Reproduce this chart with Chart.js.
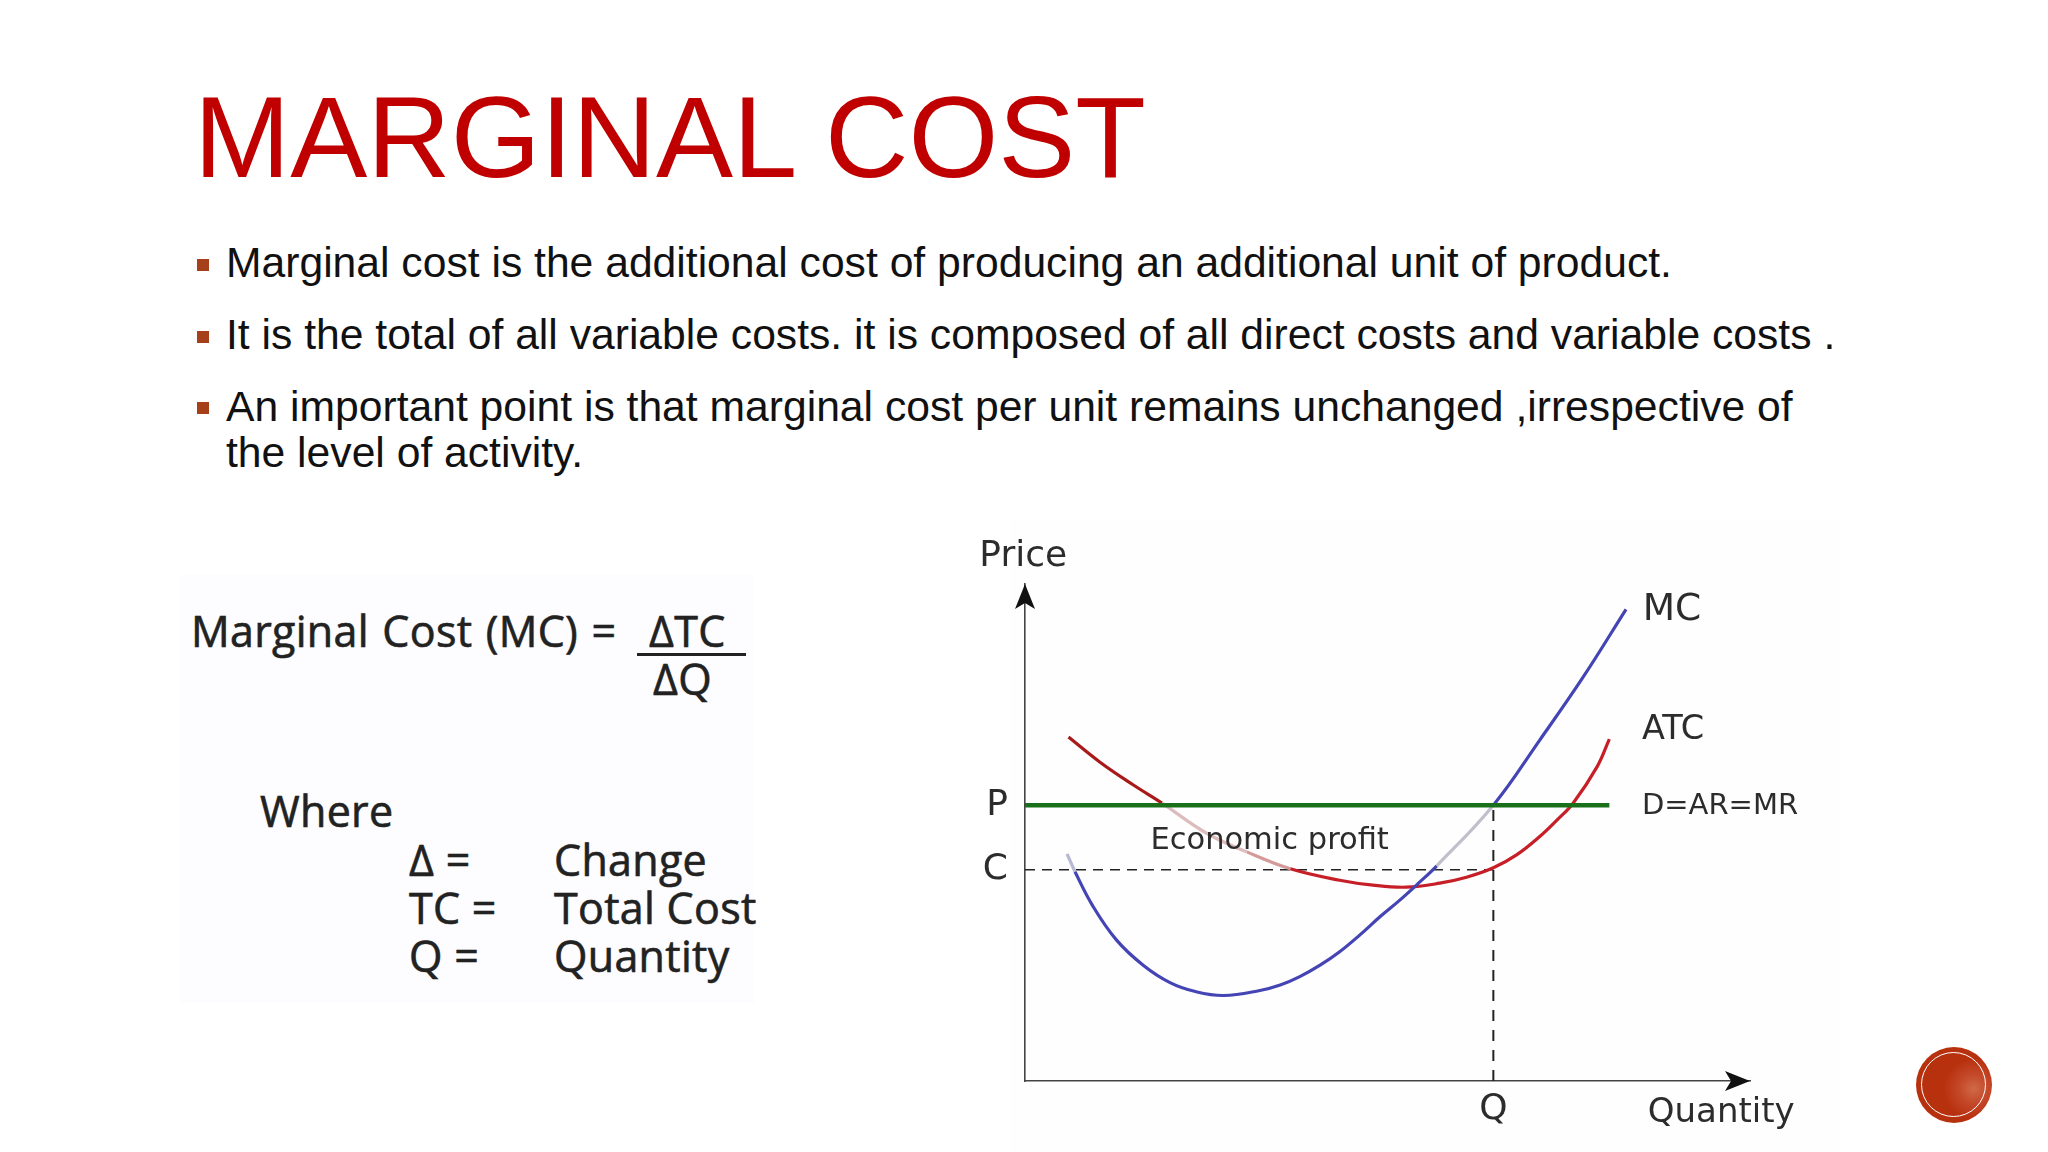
<!DOCTYPE html>
<html>
<head>
<meta charset="utf-8">
<script src="https://cdn.jsdelivr.net/npm/chart.js@4"></script>
<style>
  html, body { margin: 0; padding: 0; background: #fff; }
  #slide { position: relative; width: 2048px; height: 1152px; overflow: hidden; background: #fff; }
  #slide div { position: absolute; white-space: nowrap; }
  #title { left: 194px; top: 72px; font: 115.5px/130px "Liberation Sans"; color: #c00000; }
  .bullet { left: 226px; font: 42.65px/50px "Liberation Sans"; color: #111; }
  .sq { left: 197px; width: 12px; height: 12px; background: #a5401a; }
  #box { left: 179px; top: 575px; width: 575px; height: 428px; background: #fdfcfe; }
  #plotbg { left: 1010px; top: 520px; width: 830px; height: 632px; background: #fefefe; }
  .f { font: 500 43px/48px "Open Sans"; letter-spacing: .3px; color: #222; transform: translateY(-50%);
       -webkit-text-stroke: .5px #222; text-shadow: 0 0 1px rgba(0,0,0,.35); }
  #bar { left: 637px; top: 653px; width: 109px; height: 3px; background: #222; }
  #logo { left: 1916px; top: 1047px; width: 76px; height: 76px; border-radius: 50%;
          background: radial-gradient(circle at 76% 55%, #cf6a48 0, #c4492a 20%, #b8310f 42%); }
  #ring { left: 1921px; top: 1052px; width: 63px; height: 63px; border-radius: 50%; border: 1.5px solid #fff; }
  #wrap { left: 960px; top: 530px; width: 860px; height: 607px; }
</style>
</head>
<body>
<div id="slide">
  <div id="plotbg"></div>
  <div id="title">MARGINAL COST</div>
  <div class="sq" style="top:259px"></div>
  <div class="bullet" style="top:237px">Marginal cost is the additional cost of producing an additional unit of product.</div>
  <div class="sq" style="top:331px"></div>
  <div class="bullet" style="top:309px">It is the total of all variable costs. it is composed of all direct costs and variable costs .</div>
  <div class="sq" style="top:402px"></div>
  <div class="bullet" style="top:381px">An important point is that marginal cost per unit remains unchanged ,irrespective of</div>
  <div class="bullet" style="top:427px">the level of activity.</div>

  <div id="box"></div>
  <div class="f" style="left:191px;top:631px;word-spacing:2px">Marginal Cost (MC) =</div>
  <div class="f" style="left:649px;top:631px">ΔTC</div>
  <div id="bar"></div>
  <div class="f" style="left:653px;top:679px">ΔQ</div>
  <div class="f" style="left:260px;top:811px">Where</div>
  <div class="f" style="left:409px;top:860px">Δ =</div>
  <div class="f" style="left:554px;top:860px">Change</div>
  <div class="f" style="left:409px;top:908px">TC =</div>
  <div class="f" style="left:554px;top:908px">Total Cost</div>
  <div class="f" style="left:409px;top:956px">Q =</div>
  <div class="f" style="left:554px;top:956px">Quantity</div>

  <div id="wrap"><canvas id="costChart" width="860" height="607"></canvas></div>
  <div id="logo"></div>
  <div id="ring"></div>
</div>

<script>
var mcX = [5.8, 6.9, 9.4, 12.6, 16.3, 20, 23.5, 27.4, 32.4, 35.2, 37.9, 40.7, 43.4, 46.2, 49, 51.7, 54.2, 56.8, 64.6, 71, 77, 82.9]
var mcY = [45.7, 42.1, 35.1, 28.4, 23.3, 19.8, 18, 17.2, 18.2, 19.3, 21, 23.3, 26, 29.4, 33.1, 36.4, 39.7, 43.3, 55.5, 68.6, 81.3, 94.9]
var atcX = [6, 10.3, 14.9, 18.9, 25.1, 30.6, 36.6, 43.4, 48, 52.6, 57.2, 60.9, 64.6, 67.8, 71, 73.3, 75.6, 78.9, 80.6]
var atcY = [69.2, 64.2, 59.6, 55.9, 49.8, 46.1, 42.7, 40.4, 39.4, 39, 39.8, 41, 42.9, 45.5, 49.2, 52.4, 55.9, 63.2, 68.8]

var priceP = 55.5
var costC = 42.5
var quantityQ = 64.6
var demandEnd = 80.6

var annoText = ["Price", "MC", "ATC", "D=AR=MR", "Economic profit", "Quantity"]
var annoX = [-6.3, 85.2, 85.1, 85.1, 17.3, 85.9]
var annoY = [105.6, 94.8, 70.6, 55.3, 48.2, -6.4]
var annoSize = [36, 37.5, 33.5, 29, 30.5, 34]

var FONT = '"DejaVu Sans"'

// barbed arrow, tip sits on the middle of the image so it lands on the axis end
function arrowHead() {
    var c = document.createElement("canvas")
    c.width = 56; c.height = 56
    var g = c.getContext("2d")
    g.fillStyle = "#111"
    g.beginPath()
    g.moveTo(28, 28)
    g.lineTo(3, 18)
    g.lineTo(9, 28)
    g.lineTo(3, 38)
    g.closePath()
    g.fill()
    return c
}

var annoPlugin = {
    id: "anno",
    afterDatasetsDraw: function (chart) {
        var ctx = chart.ctx
        ctx.save()
        ctx.fillStyle = "#2c2c2c"
        ctx.textBaseline = "middle"
        ctx.textAlign = "left"
        annoText.forEach(function (t, i) {
            ctx.font = annoSize[i] + "px " + FONT
            ctx.fillText(t, chart.scales.x.getPixelForValue(annoX[i]), chart.scales.y.getPixelForValue(annoY[i]))
        })
        ctx.restore()
    }
}

function xy(xs, ys) {
    return xs.map(function (x, i) { return { x: x, y: ys[i] } })
}

var costChart = new Chart(document.getElementById("costChart"), {
    type: "line",
    plugins: [annoPlugin],
    data: {
        datasets: [
            {
                data: [{ x: 100, y: 0 }, { x: 0, y: 100 }],
                showLine: false,
                clip: false,
                pointStyle: arrowHead(),
                pointRotation: [0, -90]
            },
            {
                data: [{ x: 0, y: priceP }, { x: demandEnd, y: priceP }],
                borderColor: "#1a701a",
                borderWidth: 4.5,
                pointRadius: 0
            },
            {
                data: xy(mcX, mcY),
                label: "MC",
                borderColor: "#4444b4",
                borderWidth: 3.2,
                pointRadius: 0,
                tension: 0.4,
                segment: {
                    borderColor: function (c) {
                        var x = c.p0.parsed.x
                        if (x < 6.9) return "#b8b8d4"
                        if (x >= 56.8 && x < 64.6) return "#c0c0cc"
                        return undefined
                    }
                }
            },
            {
                data: xy(atcX, atcY),
                label: "ATC",
                borderColor: "#c61f28",
                borderWidth: 3.2,
                pointRadius: 0,
                tension: 0.4,
                segment: {
                    borderColor: function (c) {
                        var x = c.p0.parsed.x
                        if (x < 18.9) return "#a81a1a"
                        if (x < 30.6) return "#dcbcbc"
                        if (x < 36.6) return "#d49a9a"
                        return undefined
                    }
                }
            },
            {
                data: [{ x: 0, y: costC }, { x: quantityQ, y: costC }],
                borderColor: "#222",
                borderWidth: 1.6,
                borderDash: [10, 7],
                pointRadius: 0
            },
            {
                data: [{ x: quantityQ, y: 0 }, { x: quantityQ, y: priceP }],
                borderColor: "#222",
                borderWidth: 2,
                borderDash: [11, 9],
                pointRadius: 0
            }
        ]
    },
    options: {
        responsive: false,
        animation: false,
        layout: { padding: { top: 54, right: 70, left: 0, bottom: 0 } },
        plugins: { legend: { display: false }, tooltip: { enabled: false } },
        scales: {
            x: {
                type: "linear",
                min: 0,
                max: 100,
                afterFit: function (s) { s.height = 56 },
                afterBuildTicks: function (s) { s.ticks = [{ value: quantityQ }] },
                grid: { display: false, drawTicks: false },
                border: { display: true, color: "#444", width: 1.6 },
                ticks: {
                    autoSkip: false, maxRotation: 0, padding: 7, color: "#2c2c2c",
                    font: { family: FONT, size: 36 },
                    callback: function () { return "Q" }
                }
            },
            y: {
                type: "linear",
                min: 0,
                max: 100,
                afterFit: function (s) { s.width = 65 },
                afterBuildTicks: function (s) { s.ticks = [{ value: costC }, { value: priceP }] },
                grid: { display: false, drawTicks: false },
                border: { display: true, color: "#444", width: 1.6 },
                ticks: {
                    autoSkip: false, padding: 17, color: "#2c2c2c",
                    font: { family: FONT, size: 36 },
                    callback: function (v) { return v == priceP ? "P" : "C" }
                }
            }
        }
    }
});
</script>
</body>
</html>
